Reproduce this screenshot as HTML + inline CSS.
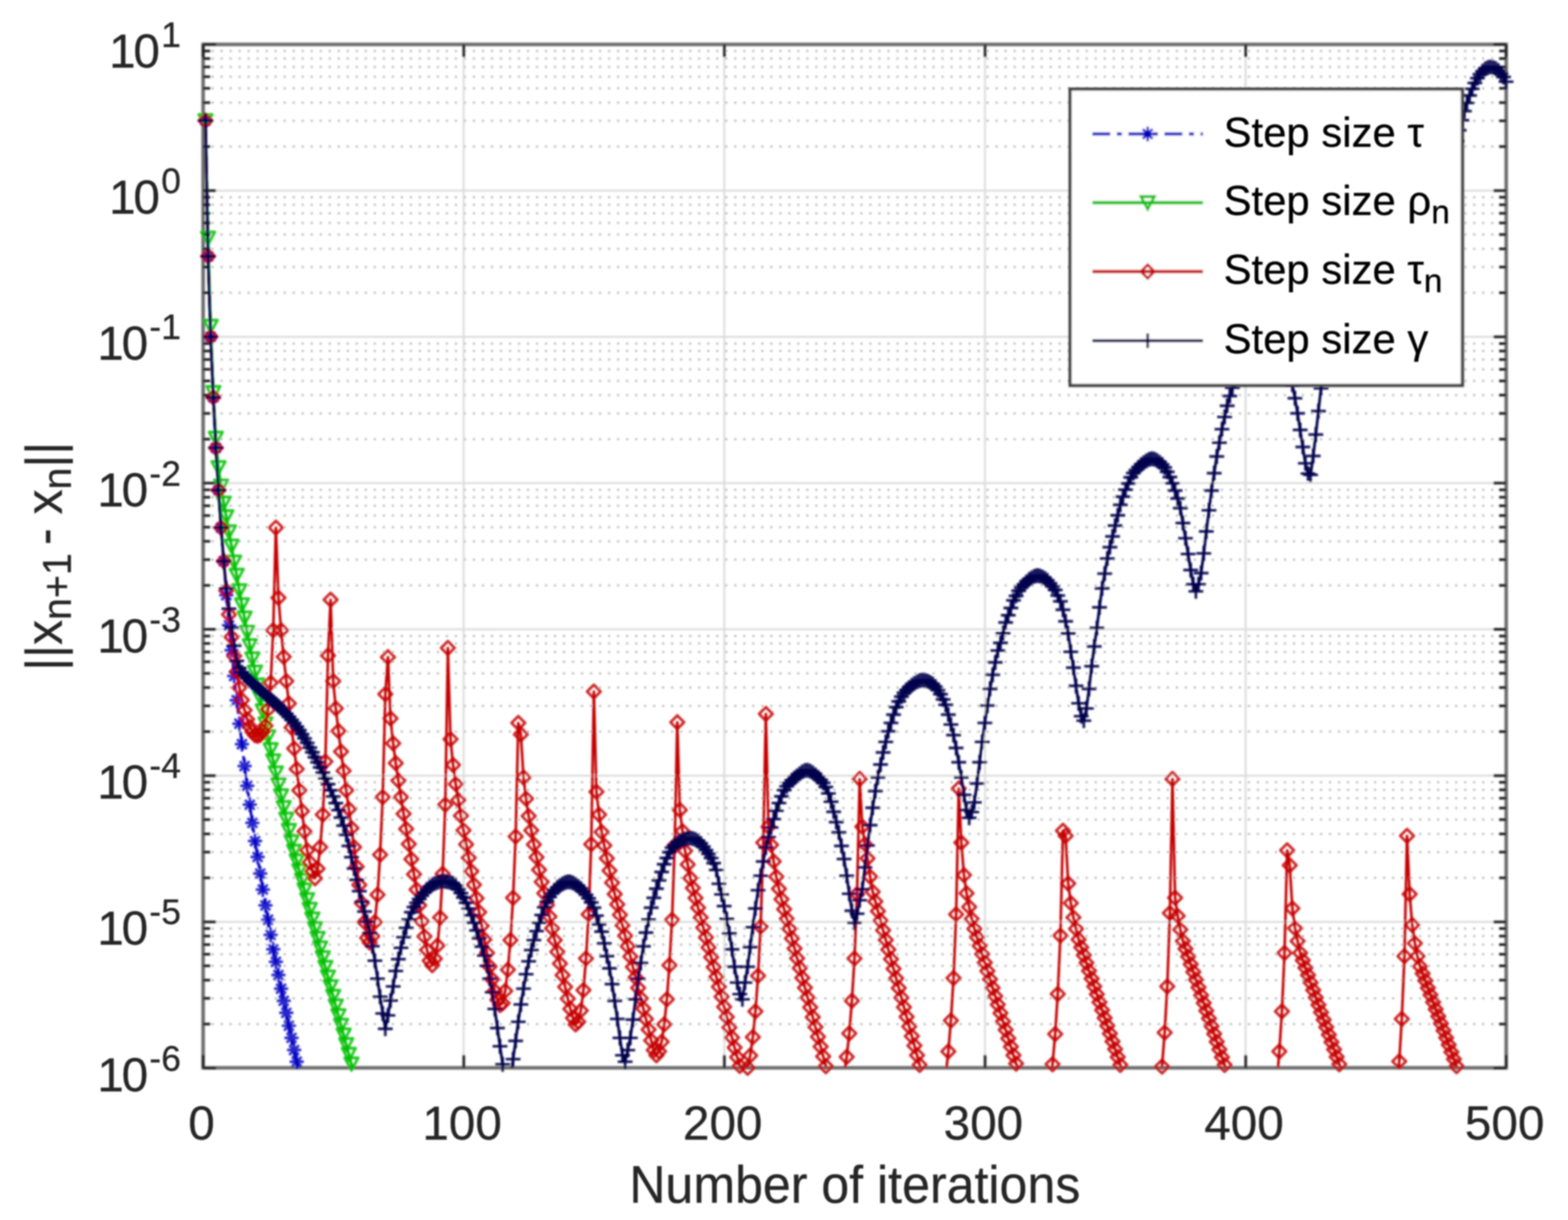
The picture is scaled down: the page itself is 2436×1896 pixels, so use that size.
<!DOCTYPE html>
<html lang="en"><head><meta charset="utf-8"><title>Convergence plot</title>
<style>html,body{margin:0;padding:0;background:#fff}body{width:2436px;height:1896px;overflow:hidden}svg{display:block}text{font-family:"Liberation Sans",sans-serif}</style>
</head><body>
<svg width="2436" height="1896" viewBox="0 0 2436 1896" role="img" aria-label="Convergence of step sizes">
<defs>
<filter id="bl" x="-2%" y="-2%" width="104%" height="104%"><feGaussianBlur stdDeviation="1.5"/></filter>
<filter id="bt" x="-5%" y="-5%" width="110%" height="110%"><feGaussianBlur stdDeviation="1.0"/></filter>
<clipPath id="cp"><rect x="315.6" y="69.0" width="2024.4" height="1590.5"/></clipPath>
<g id="mA"><path d="M-11 0H11M0 -11.5V11.5M-7.5 -7.5L7.5 7.5M-7.5 7.5L7.5 -7.5" fill="none"/></g>
<g id="mT"><path d="M-10.5 -9.5H10.5L0 10Z" fill="none"/></g>
<g id="mD"><path d="M0 -10.5L10.5 0L0 10.5L-10.5 0Z" fill="none"/></g>
<g id="mP"><path d="M-11.5 0H11.5M0 -11.5V11.5" fill="none"/></g>
</defs>
<rect width="2436" height="1896" fill="#fff"/>
<g filter="url(#bl)">
<g id="grid">
<path d="M328.8 1591.6H2328.0M328.8 1551.6H2328.0M328.8 1523.2H2328.0M328.8 1501.1H2328.0M328.8 1483.1H2328.0M328.8 1467.9H2328.0M328.8 1454.7H2328.0M328.8 1443.1H2328.0M328.8 1364.3H2328.0M328.8 1324.3H2328.0M328.8 1295.9H2328.0M328.8 1273.8H2328.0M328.8 1255.8H2328.0M328.8 1240.6H2328.0M328.8 1227.4H2328.0M328.8 1215.8H2328.0M328.8 1137.0H2328.0M328.8 1097.0H2328.0M328.8 1068.6H2328.0M328.8 1046.5H2328.0M328.8 1028.5H2328.0M328.8 1013.3H2328.0M328.8 1000.1H2328.0M328.8 988.5H2328.0M328.8 909.7H2328.0M328.8 869.7H2328.0M328.8 841.3H2328.0M328.8 819.2H2328.0M328.8 801.2H2328.0M328.8 786.0H2328.0M328.8 772.8H2328.0M328.8 761.2H2328.0M328.8 682.4H2328.0M328.8 642.4H2328.0M328.8 614.0H2328.0M328.8 591.9H2328.0M328.8 573.9H2328.0M328.8 558.7H2328.0M328.8 545.5H2328.0M328.8 533.9H2328.0M328.8 455.1H2328.0M328.8 415.1H2328.0M328.8 386.7H2328.0M328.8 364.6H2328.0M328.8 346.6H2328.0M328.8 331.4H2328.0M328.8 318.2H2328.0M328.8 306.6H2328.0M328.8 227.8H2328.0M328.8 187.8H2328.0M328.8 159.4H2328.0M328.8 137.3H2328.0M328.8 119.3H2328.0M328.8 104.1H2328.0M328.8 90.9H2328.0M328.8 79.3H2328.0" stroke="#acacac" stroke-width="3" stroke-dasharray="3 11" fill="none"/>
<path d="M315.6 1432.7H2340.0M315.6 1205.4H2340.0M315.6 978.1H2340.0M315.6 750.8H2340.0M315.6 523.5H2340.0M315.6 296.2H2340.0M720.3 69.0V1659.5M1125.2 69.0V1659.5M1530.2 69.0V1659.5M1935.1 69.0V1659.5" stroke="#dcdcdc" stroke-width="3" fill="none"/>
</g>
<g id="axes" fill="none" stroke-linecap="butt">
<rect x="315.6" y="69.0" width="2024.4" height="1590.5" stroke="#6c6c6c" stroke-width="5.5"/>
<path d="M315.6 1659.5v-20M315.6 69.0v20M720.5 1659.5v-20M720.5 69.0v20M1125.4 1659.5v-20M1125.4 69.0v20M1530.4 1659.5v-20M1530.4 69.0v20M1935.3 1659.5v-20M1935.3 69.0v20M2340.0 1659.5v-20M2340.0 69.0v20M315.6 1660.0h20M2340.0 1660.0h-20M315.6 1591.6h11M2340.0 1591.6h-11M315.6 1551.6h11M2340.0 1551.6h-11M315.6 1523.2h11M2340.0 1523.2h-11M315.6 1501.1h11M2340.0 1501.1h-11M315.6 1483.1h11M2340.0 1483.1h-11M315.6 1467.9h11M2340.0 1467.9h-11M315.6 1454.7h11M2340.0 1454.7h-11M315.6 1443.1h11M2340.0 1443.1h-11M315.6 1432.7h20M2340.0 1432.7h-20M315.6 1364.3h11M2340.0 1364.3h-11M315.6 1324.3h11M2340.0 1324.3h-11M315.6 1295.9h11M2340.0 1295.9h-11M315.6 1273.8h11M2340.0 1273.8h-11M315.6 1255.8h11M2340.0 1255.8h-11M315.6 1240.6h11M2340.0 1240.6h-11M315.6 1227.4h11M2340.0 1227.4h-11M315.6 1215.8h11M2340.0 1215.8h-11M315.6 1205.4h20M2340.0 1205.4h-20M315.6 1137.0h11M2340.0 1137.0h-11M315.6 1097.0h11M2340.0 1097.0h-11M315.6 1068.6h11M2340.0 1068.6h-11M315.6 1046.5h11M2340.0 1046.5h-11M315.6 1028.5h11M2340.0 1028.5h-11M315.6 1013.3h11M2340.0 1013.3h-11M315.6 1000.1h11M2340.0 1000.1h-11M315.6 988.5h11M2340.0 988.5h-11M315.6 978.1h20M2340.0 978.1h-20M315.6 909.7h11M2340.0 909.7h-11M315.6 869.7h11M2340.0 869.7h-11M315.6 841.3h11M2340.0 841.3h-11M315.6 819.2h11M2340.0 819.2h-11M315.6 801.2h11M2340.0 801.2h-11M315.6 786.0h11M2340.0 786.0h-11M315.6 772.8h11M2340.0 772.8h-11M315.6 761.2h11M2340.0 761.2h-11M315.6 750.8h20M2340.0 750.8h-20M315.6 682.4h11M2340.0 682.4h-11M315.6 642.4h11M2340.0 642.4h-11M315.6 614.0h11M2340.0 614.0h-11M315.6 591.9h11M2340.0 591.9h-11M315.6 573.9h11M2340.0 573.9h-11M315.6 558.7h11M2340.0 558.7h-11M315.6 545.5h11M2340.0 545.5h-11M315.6 533.9h11M2340.0 533.9h-11M315.6 523.5h20M2340.0 523.5h-20M315.6 455.1h11M2340.0 455.1h-11M315.6 415.1h11M2340.0 415.1h-11M315.6 386.7h11M2340.0 386.7h-11M315.6 364.6h11M2340.0 364.6h-11M315.6 346.6h11M2340.0 346.6h-11M315.6 331.4h11M2340.0 331.4h-11M315.6 318.2h11M2340.0 318.2h-11M315.6 306.6h11M2340.0 306.6h-11M315.6 296.2h20M2340.0 296.2h-20M315.6 227.8h11M2340.0 227.8h-11M315.6 187.8h11M2340.0 187.8h-11M315.6 159.4h11M2340.0 159.4h-11M315.6 137.3h11M2340.0 137.3h-11M315.6 119.3h11M2340.0 119.3h-11M315.6 104.1h11M2340.0 104.1h-11M315.6 90.9h11M2340.0 90.9h-11M315.6 79.3h11M2340.0 79.3h-11M315.6 68.9h20M2340.0 68.9h-20" stroke="#1c1c1c" stroke-width="4"/>
</g>
<g id="s-tau" stroke="#0000c4" fill="none" stroke-linejoin="round">
<polyline clip-path="url(#cp)" points="319.2 187.4 323.3 398.3 327.3 523.3 331.4 617.4 335.4 696.0 339.5 761.8 343.5 820.0 347.6 872.1 351.6 925.0 355.7 971.8 359.7 1010.6 363.8 1050.6 367.8 1088.2 371.9 1124.7 375.9 1156.5 380.0 1190.6 384.0 1221.2 388.1 1250.6 392.1 1278.8 396.2 1307.1 400.2 1331.8 404.3 1357.6 408.3 1382.4 412.4 1407.1 416.4 1429.4 420.5 1452.9 424.5 1475.3 428.6 1494.8 432.6 1515.3 436.7 1536.5 440.7 1555.3 444.8 1574.1 448.8 1594.1 452.9 1612.9 456.9 1631.8 461.0 1650.0 465.0 1668.0" stroke-width="4" stroke-dasharray="28 10 8 10"/>
<g stroke-width="4" stroke-linejoin="round" stroke-opacity="0.85">
<use href="#mA" x="319.2" y="187.4"/><use href="#mA" x="323.3" y="398.3"/><use href="#mA" x="327.3" y="523.3"/><use href="#mA" x="331.4" y="617.4"/><use href="#mA" x="335.4" y="696.0"/><use href="#mA" x="339.5" y="761.8"/><use href="#mA" x="343.5" y="820.0"/><use href="#mA" x="347.6" y="872.1"/><use href="#mA" x="351.6" y="925.0"/><use href="#mA" x="355.7" y="971.8"/><use href="#mA" x="359.7" y="1010.6"/><use href="#mA" x="363.8" y="1050.6"/><use href="#mA" x="367.8" y="1088.2"/><use href="#mA" x="371.9" y="1124.7"/><use href="#mA" x="375.9" y="1156.5"/><use href="#mA" x="380.0" y="1190.6"/><use href="#mA" x="384.0" y="1221.2"/><use href="#mA" x="388.1" y="1250.6"/><use href="#mA" x="392.1" y="1278.8"/><use href="#mA" x="396.2" y="1307.1"/><use href="#mA" x="400.2" y="1331.8"/><use href="#mA" x="404.3" y="1357.6"/><use href="#mA" x="408.3" y="1382.4"/><use href="#mA" x="412.4" y="1407.1"/><use href="#mA" x="416.4" y="1429.4"/><use href="#mA" x="420.5" y="1452.9"/><use href="#mA" x="424.5" y="1475.3"/><use href="#mA" x="428.6" y="1494.8"/><use href="#mA" x="432.6" y="1515.3"/><use href="#mA" x="436.7" y="1536.5"/><use href="#mA" x="440.7" y="1555.3"/><use href="#mA" x="444.8" y="1574.1"/><use href="#mA" x="448.8" y="1594.1"/><use href="#mA" x="452.9" y="1612.9"/><use href="#mA" x="456.9" y="1631.8"/><use href="#mA" x="461.0" y="1650.0"/>
</g></g>
<g id="s-rho" stroke="#00c000" fill="none" stroke-linejoin="round">
<polyline clip-path="url(#cp)" points="319.2 187.4 323.3 370.0 327.3 507.0 331.4 610.0 335.4 681.0 339.5 726.7 343.5 755.5 347.6 781.8 351.6 803.0 355.7 826.5 359.7 848.7 363.8 873.4 367.8 894.0 371.9 918.0 375.9 939.8 380.0 960.4 384.0 982.7 388.1 1003.3 392.1 1023.9 396.2 1044.4 400.2 1064.5 404.3 1084.6 408.3 1104.7 412.4 1124.8 416.4 1144.9 420.5 1165.0 424.5 1182.3 428.6 1201.2 432.6 1219.4 436.7 1236.7 440.7 1254.8 444.8 1273.0 448.8 1290.5 452.9 1308.0 456.9 1323.0 461.0 1338.0 465.0 1353.1 469.1 1368.1 473.1 1383.1 477.2 1398.1 481.2 1413.2 485.3 1428.2 489.3 1443.2 493.4 1458.2 497.4 1473.2 501.5 1488.3 505.5 1503.3 509.6 1518.3 513.6 1533.3 517.7 1548.3 521.7 1563.4 525.8 1578.4 529.8 1593.4 533.9 1608.4 537.9 1623.5 542.0 1638.5 546.0 1653.5 550.1 1669.0" stroke-width="4"/>
<g stroke-width="4.3" stroke-linejoin="round" stroke-opacity="0.85">
<use href="#mT" x="319.2" y="187.4"/><use href="#mT" x="323.3" y="370.0"/><use href="#mT" x="327.3" y="507.0"/><use href="#mT" x="331.4" y="610.0"/><use href="#mT" x="335.4" y="681.0"/><use href="#mT" x="339.5" y="726.7"/><use href="#mT" x="343.5" y="755.5"/><use href="#mT" x="347.6" y="781.8"/><use href="#mT" x="351.6" y="803.0"/><use href="#mT" x="355.7" y="826.5"/><use href="#mT" x="359.7" y="848.7"/><use href="#mT" x="363.8" y="873.4"/><use href="#mT" x="367.8" y="894.0"/><use href="#mT" x="371.9" y="918.0"/><use href="#mT" x="375.9" y="939.8"/><use href="#mT" x="380.0" y="960.4"/><use href="#mT" x="384.0" y="982.7"/><use href="#mT" x="388.1" y="1003.3"/><use href="#mT" x="392.1" y="1023.9"/><use href="#mT" x="396.2" y="1044.4"/><use href="#mT" x="400.2" y="1064.5"/><use href="#mT" x="404.3" y="1084.6"/><use href="#mT" x="408.3" y="1104.7"/><use href="#mT" x="412.4" y="1124.8"/><use href="#mT" x="416.4" y="1144.9"/><use href="#mT" x="420.5" y="1165.0"/><use href="#mT" x="424.5" y="1182.3"/><use href="#mT" x="428.6" y="1201.2"/><use href="#mT" x="432.6" y="1219.4"/><use href="#mT" x="436.7" y="1236.7"/><use href="#mT" x="440.7" y="1254.8"/><use href="#mT" x="444.8" y="1273.0"/><use href="#mT" x="448.8" y="1290.5"/><use href="#mT" x="452.9" y="1308.0"/><use href="#mT" x="456.9" y="1323.0"/><use href="#mT" x="461.0" y="1338.0"/><use href="#mT" x="465.0" y="1353.1"/><use href="#mT" x="469.1" y="1368.1"/><use href="#mT" x="473.1" y="1383.1"/><use href="#mT" x="477.2" y="1398.1"/><use href="#mT" x="481.2" y="1413.2"/><use href="#mT" x="485.3" y="1428.2"/><use href="#mT" x="489.3" y="1443.2"/><use href="#mT" x="493.4" y="1458.2"/><use href="#mT" x="497.4" y="1473.2"/><use href="#mT" x="501.5" y="1488.3"/><use href="#mT" x="505.5" y="1503.3"/><use href="#mT" x="509.6" y="1518.3"/><use href="#mT" x="513.6" y="1533.3"/><use href="#mT" x="517.7" y="1548.3"/><use href="#mT" x="521.7" y="1563.4"/><use href="#mT" x="525.8" y="1578.4"/><use href="#mT" x="529.8" y="1593.4"/><use href="#mT" x="533.9" y="1608.4"/><use href="#mT" x="537.9" y="1623.5"/><use href="#mT" x="542.0" y="1638.5"/><use href="#mT" x="546.0" y="1653.5"/>
</g></g>
<g id="s-taun" stroke="#c60000" fill="none" stroke-linejoin="round">
<polyline clip-path="url(#cp)" points="319.2 187.4 323.3 398.3 327.3 523.3 331.4 617.4 335.4 696.0 339.5 761.8 343.5 820.0 347.6 872.1 351.6 918.0 355.7 955.0 359.7 990.0 363.8 1019.5 367.8 1044.0 371.9 1068.7 375.9 1088.0 380.0 1103.7 384.0 1118.0 388.1 1129.5 392.1 1137.3 396.2 1142.5 400.2 1143.8 404.3 1142.0 408.3 1137.0 412.4 1128.0 416.4 1102.4 420.5 1061.0 424.5 979.4 428.6 820.0 432.6 929.0 436.7 979.4 440.7 1020.8 444.8 1058.4 448.8 1093.3 452.9 1130.8 456.9 1163.2 461.0 1195.3 465.0 1228.2 469.1 1260.5 473.1 1292.2 477.2 1321.5 481.2 1340.0 485.3 1354.0 489.3 1365.0 493.4 1350.0 497.4 1316.5 501.5 1266.0 505.5 1183.5 509.6 1018.8 513.6 932.0 517.7 1058.6 521.7 1101.1 525.8 1136.0 529.8 1168.0 533.9 1198.1 537.9 1228.2 542.0 1257.6 546.0 1287.0 550.1 1316.5 554.1 1347.0 558.2 1375.3 562.2 1403.5 566.3 1433.0 570.3 1457.6 574.3 1464.7 578.4 1455.0 582.4 1433.0 586.5 1390.6 590.5 1328.2 594.6 1238.8 598.6 1078.8 602.7 1021.2 606.7 1116.5 610.8 1155.3 614.8 1185.9 618.9 1213.0 622.9 1238.8 627.0 1264.7 631.0 1288.2 635.1 1311.8 639.1 1335.3 643.2 1358.8 647.2 1382.4 651.3 1407.0 655.3 1431.8 659.4 1455.3 663.4 1476.5 667.5 1493.0 671.5 1500.0 675.6 1490.0 679.6 1469.4 683.7 1425.9 687.7 1358.0 691.8 1250.6 695.8 1007.0 699.9 1148.7 703.9 1188.7 708.0 1218.4 712.0 1243.5 716.1 1267.8 720.1 1290.6 724.2 1312.2 728.2 1333.0 732.3 1354.0 736.3 1375.0 740.4 1396.0 744.4 1417.6 748.5 1438.8 752.5 1460.0 756.6 1481.0 760.6 1502.0 764.7 1522.0 768.7 1540.0 772.8 1554.0 776.8 1562.0 780.9 1559.0 784.9 1540.0 789.0 1507.0 793.0 1461.0 797.1 1395.3 801.1 1300.0 805.2 1123.5 809.2 1141.2 813.3 1208.2 817.3 1241.2 821.3 1268.2 825.4 1290.6 829.4 1312.5 833.5 1332.2 837.5 1351.8 841.6 1370.6 845.6 1388.2 849.7 1406.4 853.7 1424.6 857.8 1442.8 861.8 1461.0 865.9 1479.2 869.9 1497.4 874.0 1515.6 878.0 1533.8 882.1 1552.0 886.1 1568.0 890.2 1582.0 894.2 1592.0 898.3 1588.0 902.3 1570.6 906.4 1538.8 910.4 1489.4 914.5 1421.0 918.5 1312.0 922.6 1074.8 926.6 1230.6 930.7 1265.9 934.7 1292.9 938.8 1314.1 942.8 1334.1 946.9 1352.9 950.9 1371.8 955.0 1389.4 959.0 1405.6 963.1 1421.8 967.1 1438.0 971.2 1454.2 975.2 1470.4 979.3 1486.6 983.3 1502.8 987.4 1519.0 991.4 1535.2 995.5 1551.4 999.5 1567.6 1003.6 1583.8 1007.6 1600.0 1011.7 1617.0 1015.7 1632.0 1019.8 1640.0 1023.8 1634.0 1027.9 1619.0 1031.9 1592.0 1036.0 1553.0 1040.0 1500.0 1044.1 1429.4 1048.1 1314.0 1052.2 1122.4 1056.2 1258.8 1060.3 1291.8 1064.3 1322.4 1068.4 1343.5 1072.4 1364.7 1076.4 1380.1 1080.5 1395.4 1084.5 1410.8 1088.6 1426.1 1092.6 1441.5 1096.7 1456.8 1100.7 1472.2 1104.8 1487.6 1108.8 1502.9 1112.9 1518.3 1116.9 1533.6 1121.0 1549.0 1125.0 1564.7 1129.1 1580.4 1133.1 1596.8 1137.2 1612.5 1141.2 1628.0 1145.3 1643.0 1149.3 1656.5 1153.4 1668.0 1157.4 1671.0 1161.5 1659.4 1165.5 1640.5 1169.6 1611.8 1173.6 1571.8 1177.7 1516.5 1181.7 1440.0 1185.8 1309.4 1189.8 1109.4 1193.9 1285.0 1197.9 1313.0 1202.0 1338.8 1206.0 1362.4 1210.1 1381.2 1214.1 1397.6 1218.2 1412.9 1222.2 1428.1 1226.3 1443.4 1230.3 1458.6 1234.4 1473.9 1238.4 1489.2 1242.5 1504.4 1246.5 1519.7 1250.6 1534.9 1254.6 1550.2 1258.7 1565.4 1262.7 1580.7 1266.8 1596.0 1270.8 1611.2 1274.9 1626.5 1278.9 1641.7 1283.0 1657.0 1287.0 1672.0 1291.1 1685.0 1295.1 1696.0 1299.2 1703.0 1303.2 1700.0 1307.3 1690.0 1311.3 1670.0 1315.4 1642.4 1319.4 1605.9 1323.5 1555.3 1327.5 1489.4 1331.5 1389.4 1335.6 1210.6 1339.6 1284.7 1343.7 1312.0 1347.7 1334.0 1351.8 1362.4 1355.8 1386.0 1359.9 1400.9 1363.9 1415.9 1368.0 1430.8 1372.0 1445.8 1376.1 1460.7 1380.1 1475.7 1384.2 1490.6 1388.2 1505.6 1392.3 1520.5 1396.3 1535.4 1400.4 1550.4 1404.4 1565.3 1408.5 1580.3 1412.5 1595.2 1416.6 1610.2 1420.6 1625.1 1424.7 1640.1 1428.7 1655.0 1432.8 1668.0 1436.8 1680.0 1440.9 1691.0 1444.9 1700.0 1449.0 1707.0 1453.0 1712.0 1457.1 1714.0 1461.1 1710.0 1465.2 1698.0 1469.2 1672.0 1473.3 1634.0 1477.3 1586.0 1481.4 1520.0 1485.4 1421.0 1489.5 1225.4 1493.5 1309.4 1497.6 1360.0 1501.6 1388.2 1505.7 1409.4 1509.7 1428.2 1513.8 1443.5 1517.8 1456.6 1521.9 1469.7 1525.9 1482.8 1530.0 1495.9 1534.0 1509.0 1538.1 1522.1 1542.1 1535.2 1546.2 1548.2 1550.2 1561.3 1554.3 1574.4 1558.3 1587.5 1562.4 1600.6 1566.4 1613.7 1570.5 1626.8 1574.5 1639.9 1578.6 1653.0 1582.6 1664.5 1586.6 1676.0 1590.7 1687.5 1594.7 1699.0 1598.8 1710.5 1602.8 1722.0 1606.9 1733.5 1610.9 1745.0 1615.0 1750.0 1619.0 1748.0 1623.1 1740.0 1627.1 1725.0 1631.2 1698.0 1635.2 1654.0 1639.3 1607.0 1643.3 1544.7 1647.4 1454.0 1651.4 1291.0 1655.5 1299.0 1659.5 1373.0 1663.6 1403.5 1667.6 1426.0 1671.7 1443.5 1675.7 1460.0 1679.8 1472.2 1683.8 1484.4 1687.9 1496.6 1691.9 1508.8 1696.0 1520.9 1700.0 1533.1 1704.1 1545.3 1708.1 1557.5 1712.2 1569.7 1716.2 1581.9 1720.3 1594.1 1724.3 1606.2 1728.4 1618.4 1732.4 1630.6 1736.5 1642.8 1740.5 1655.0 1744.6 1666.1 1748.6 1677.2 1752.7 1688.3 1756.7 1699.4 1760.8 1710.6 1764.8 1721.7 1768.9 1732.8 1772.9 1743.9 1777.0 1755.0 1781.0 1760.0 1785.1 1758.0 1789.1 1750.0 1793.2 1738.0 1797.2 1720.0 1801.3 1692.0 1805.3 1657.6 1809.4 1604.7 1813.4 1533.0 1817.5 1419.0 1821.5 1210.6 1825.6 1395.3 1829.6 1423.5 1833.7 1444.7 1837.7 1462.4 1841.7 1474.4 1845.8 1486.5 1849.8 1498.5 1853.9 1510.6 1857.9 1522.6 1862.0 1534.6 1866.0 1546.7 1870.1 1558.7 1874.1 1570.7 1878.2 1582.8 1882.2 1594.8 1886.3 1606.8 1890.3 1618.9 1894.4 1630.9 1898.4 1643.0 1902.5 1655.0 1906.5 1666.2 1910.6 1677.3 1914.6 1688.5 1918.7 1699.6 1922.7 1710.8 1926.8 1721.9 1930.8 1733.1 1934.9 1744.2 1938.9 1755.4 1943.0 1766.5 1947.0 1777.7 1951.1 1788.8 1955.1 1800.0 1959.2 1805.0 1963.2 1803.0 1967.3 1795.0 1971.3 1780.0 1975.4 1757.0 1979.4 1725.0 1983.5 1685.0 1987.5 1634.0 1991.6 1571.8 1995.6 1481.0 1999.7 1321.6 2003.7 1344.7 2007.8 1411.8 2011.8 1442.4 2015.9 1462.4 2019.9 1481.0 2024.0 1492.5 2028.0 1504.1 2032.1 1515.6 2036.1 1527.1 2040.2 1538.7 2044.2 1550.2 2048.3 1561.7 2052.3 1573.3 2056.4 1584.8 2060.4 1596.3 2064.5 1607.9 2068.5 1619.4 2072.6 1630.9 2076.6 1642.5 2080.7 1654.0 2084.7 1665.1 2088.7 1676.1 2092.8 1687.2 2096.8 1698.3 2100.9 1709.3 2104.9 1720.4 2109.0 1731.5 2113.0 1742.5 2117.1 1753.6 2121.1 1764.7 2125.2 1775.7 2129.2 1786.8 2133.3 1797.9 2137.3 1808.9 2141.4 1820.0 2145.4 1825.0 2149.5 1822.0 2153.5 1812.0 2157.6 1796.0 2161.6 1773.0 2165.7 1742.0 2169.7 1700.0 2173.8 1649.4 2177.8 1583.5 2181.9 1486.0 2185.9 1299.0 2190.0 1389.4 2194.0 1437.6 2198.1 1466.0 2202.1 1486.0 2206.2 1502.0 2210.2 1513.1 2214.3 1524.1 2218.3 1535.2 2222.4 1546.3 2226.4 1557.4 2230.5 1568.4 2234.5 1579.5 2238.6 1590.6 2242.6 1601.6 2246.7 1612.7 2250.7 1623.8 2254.8 1634.9 2258.8 1645.9 2262.9 1657.0 2266.9 1668.0 2271.0 1679.0 2275.0 1690.0 2279.1 1701.0 2283.1 1712.0 2287.2 1723.0 2291.2 1734.0 2295.3 1745.0 2299.3 1756.0 2303.4 1767.0 2307.4 1778.0 2311.5 1789.0 2315.5 1800.0 2319.6 1811.0 2323.6 1822.0 2327.7 1833.0 2331.7 1844.0 2335.8 1855.0 2339.8 1866.0" stroke-width="4"/>
<g stroke-width="4.3" stroke-linejoin="round" stroke-opacity="0.85">
<use href="#mD" x="319.2" y="187.4"/><use href="#mD" x="323.3" y="398.3"/><use href="#mD" x="327.3" y="523.3"/><use href="#mD" x="331.4" y="617.4"/><use href="#mD" x="335.4" y="696.0"/><use href="#mD" x="339.5" y="761.8"/><use href="#mD" x="343.5" y="820.0"/><use href="#mD" x="347.6" y="872.1"/><use href="#mD" x="351.6" y="918.0"/><use href="#mD" x="355.7" y="955.0"/><use href="#mD" x="359.7" y="990.0"/><use href="#mD" x="363.8" y="1019.5"/><use href="#mD" x="367.8" y="1044.0"/><use href="#mD" x="371.9" y="1068.7"/><use href="#mD" x="375.9" y="1088.0"/><use href="#mD" x="380.0" y="1103.7"/><use href="#mD" x="384.0" y="1118.0"/><use href="#mD" x="388.1" y="1129.5"/><use href="#mD" x="392.1" y="1137.3"/><use href="#mD" x="396.2" y="1142.5"/><use href="#mD" x="400.2" y="1143.8"/><use href="#mD" x="404.3" y="1142.0"/><use href="#mD" x="408.3" y="1137.0"/><use href="#mD" x="412.4" y="1128.0"/><use href="#mD" x="416.4" y="1102.4"/><use href="#mD" x="420.5" y="1061.0"/><use href="#mD" x="424.5" y="979.4"/><use href="#mD" x="428.6" y="820.0"/><use href="#mD" x="432.6" y="929.0"/><use href="#mD" x="436.7" y="979.4"/><use href="#mD" x="440.7" y="1020.8"/><use href="#mD" x="444.8" y="1058.4"/><use href="#mD" x="448.8" y="1093.3"/><use href="#mD" x="452.9" y="1130.8"/><use href="#mD" x="456.9" y="1163.2"/><use href="#mD" x="461.0" y="1195.3"/><use href="#mD" x="465.0" y="1228.2"/><use href="#mD" x="469.1" y="1260.5"/><use href="#mD" x="473.1" y="1292.2"/><use href="#mD" x="477.2" y="1321.5"/><use href="#mD" x="481.2" y="1340.0"/><use href="#mD" x="485.3" y="1354.0"/><use href="#mD" x="489.3" y="1365.0"/><use href="#mD" x="493.4" y="1350.0"/><use href="#mD" x="497.4" y="1316.5"/><use href="#mD" x="501.5" y="1266.0"/><use href="#mD" x="505.5" y="1183.5"/><use href="#mD" x="509.6" y="1018.8"/><use href="#mD" x="513.6" y="932.0"/><use href="#mD" x="517.7" y="1058.6"/><use href="#mD" x="521.7" y="1101.1"/><use href="#mD" x="525.8" y="1136.0"/><use href="#mD" x="529.8" y="1168.0"/><use href="#mD" x="533.9" y="1198.1"/><use href="#mD" x="537.9" y="1228.2"/><use href="#mD" x="542.0" y="1257.6"/><use href="#mD" x="546.0" y="1287.0"/><use href="#mD" x="550.1" y="1316.5"/><use href="#mD" x="554.1" y="1347.0"/><use href="#mD" x="558.2" y="1375.3"/><use href="#mD" x="562.2" y="1403.5"/><use href="#mD" x="566.3" y="1433.0"/><use href="#mD" x="570.3" y="1457.6"/><use href="#mD" x="574.3" y="1464.7"/><use href="#mD" x="578.4" y="1455.0"/><use href="#mD" x="582.4" y="1433.0"/><use href="#mD" x="586.5" y="1390.6"/><use href="#mD" x="590.5" y="1328.2"/><use href="#mD" x="594.6" y="1238.8"/><use href="#mD" x="598.6" y="1078.8"/><use href="#mD" x="602.7" y="1021.2"/><use href="#mD" x="606.7" y="1116.5"/><use href="#mD" x="610.8" y="1155.3"/><use href="#mD" x="614.8" y="1185.9"/><use href="#mD" x="618.9" y="1213.0"/><use href="#mD" x="622.9" y="1238.8"/><use href="#mD" x="627.0" y="1264.7"/><use href="#mD" x="631.0" y="1288.2"/><use href="#mD" x="635.1" y="1311.8"/><use href="#mD" x="639.1" y="1335.3"/><use href="#mD" x="643.2" y="1358.8"/><use href="#mD" x="647.2" y="1382.4"/><use href="#mD" x="651.3" y="1407.0"/><use href="#mD" x="655.3" y="1431.8"/><use href="#mD" x="659.4" y="1455.3"/><use href="#mD" x="663.4" y="1476.5"/><use href="#mD" x="667.5" y="1493.0"/><use href="#mD" x="671.5" y="1500.0"/><use href="#mD" x="675.6" y="1490.0"/><use href="#mD" x="679.6" y="1469.4"/><use href="#mD" x="683.7" y="1425.9"/><use href="#mD" x="687.7" y="1358.0"/><use href="#mD" x="691.8" y="1250.6"/><use href="#mD" x="695.8" y="1007.0"/><use href="#mD" x="699.9" y="1148.7"/><use href="#mD" x="703.9" y="1188.7"/><use href="#mD" x="708.0" y="1218.4"/><use href="#mD" x="712.0" y="1243.5"/><use href="#mD" x="716.1" y="1267.8"/><use href="#mD" x="720.1" y="1290.6"/><use href="#mD" x="724.2" y="1312.2"/><use href="#mD" x="728.2" y="1333.0"/><use href="#mD" x="732.3" y="1354.0"/><use href="#mD" x="736.3" y="1375.0"/><use href="#mD" x="740.4" y="1396.0"/><use href="#mD" x="744.4" y="1417.6"/><use href="#mD" x="748.5" y="1438.8"/><use href="#mD" x="752.5" y="1460.0"/><use href="#mD" x="756.6" y="1481.0"/><use href="#mD" x="760.6" y="1502.0"/><use href="#mD" x="764.7" y="1522.0"/><use href="#mD" x="768.7" y="1540.0"/><use href="#mD" x="772.8" y="1554.0"/><use href="#mD" x="776.8" y="1562.0"/><use href="#mD" x="780.9" y="1559.0"/><use href="#mD" x="784.9" y="1540.0"/><use href="#mD" x="789.0" y="1507.0"/><use href="#mD" x="793.0" y="1461.0"/><use href="#mD" x="797.1" y="1395.3"/><use href="#mD" x="801.1" y="1300.0"/><use href="#mD" x="805.2" y="1123.5"/><use href="#mD" x="809.2" y="1141.2"/><use href="#mD" x="813.3" y="1208.2"/><use href="#mD" x="817.3" y="1241.2"/><use href="#mD" x="821.3" y="1268.2"/><use href="#mD" x="825.4" y="1290.6"/><use href="#mD" x="829.4" y="1312.5"/><use href="#mD" x="833.5" y="1332.2"/><use href="#mD" x="837.5" y="1351.8"/><use href="#mD" x="841.6" y="1370.6"/><use href="#mD" x="845.6" y="1388.2"/><use href="#mD" x="849.7" y="1406.4"/><use href="#mD" x="853.7" y="1424.6"/><use href="#mD" x="857.8" y="1442.8"/><use href="#mD" x="861.8" y="1461.0"/><use href="#mD" x="865.9" y="1479.2"/><use href="#mD" x="869.9" y="1497.4"/><use href="#mD" x="874.0" y="1515.6"/><use href="#mD" x="878.0" y="1533.8"/><use href="#mD" x="882.1" y="1552.0"/><use href="#mD" x="886.1" y="1568.0"/><use href="#mD" x="890.2" y="1582.0"/><use href="#mD" x="894.2" y="1592.0"/><use href="#mD" x="898.3" y="1588.0"/><use href="#mD" x="902.3" y="1570.6"/><use href="#mD" x="906.4" y="1538.8"/><use href="#mD" x="910.4" y="1489.4"/><use href="#mD" x="914.5" y="1421.0"/><use href="#mD" x="918.5" y="1312.0"/><use href="#mD" x="922.6" y="1074.8"/><use href="#mD" x="926.6" y="1230.6"/><use href="#mD" x="930.7" y="1265.9"/><use href="#mD" x="934.7" y="1292.9"/><use href="#mD" x="938.8" y="1314.1"/><use href="#mD" x="942.8" y="1334.1"/><use href="#mD" x="946.9" y="1352.9"/><use href="#mD" x="950.9" y="1371.8"/><use href="#mD" x="955.0" y="1389.4"/><use href="#mD" x="959.0" y="1405.6"/><use href="#mD" x="963.1" y="1421.8"/><use href="#mD" x="967.1" y="1438.0"/><use href="#mD" x="971.2" y="1454.2"/><use href="#mD" x="975.2" y="1470.4"/><use href="#mD" x="979.3" y="1486.6"/><use href="#mD" x="983.3" y="1502.8"/><use href="#mD" x="987.4" y="1519.0"/><use href="#mD" x="991.4" y="1535.2"/><use href="#mD" x="995.5" y="1551.4"/><use href="#mD" x="999.5" y="1567.6"/><use href="#mD" x="1003.6" y="1583.8"/><use href="#mD" x="1007.6" y="1600.0"/><use href="#mD" x="1011.7" y="1617.0"/><use href="#mD" x="1015.7" y="1632.0"/><use href="#mD" x="1019.8" y="1640.0"/><use href="#mD" x="1023.8" y="1634.0"/><use href="#mD" x="1027.9" y="1619.0"/><use href="#mD" x="1031.9" y="1592.0"/><use href="#mD" x="1036.0" y="1553.0"/><use href="#mD" x="1040.0" y="1500.0"/><use href="#mD" x="1044.1" y="1429.4"/><use href="#mD" x="1048.1" y="1314.0"/><use href="#mD" x="1052.2" y="1122.4"/><use href="#mD" x="1056.2" y="1258.8"/><use href="#mD" x="1060.3" y="1291.8"/><use href="#mD" x="1064.3" y="1322.4"/><use href="#mD" x="1068.4" y="1343.5"/><use href="#mD" x="1072.4" y="1364.7"/><use href="#mD" x="1076.4" y="1380.1"/><use href="#mD" x="1080.5" y="1395.4"/><use href="#mD" x="1084.5" y="1410.8"/><use href="#mD" x="1088.6" y="1426.1"/><use href="#mD" x="1092.6" y="1441.5"/><use href="#mD" x="1096.7" y="1456.8"/><use href="#mD" x="1100.7" y="1472.2"/><use href="#mD" x="1104.8" y="1487.6"/><use href="#mD" x="1108.8" y="1502.9"/><use href="#mD" x="1112.9" y="1518.3"/><use href="#mD" x="1116.9" y="1533.6"/><use href="#mD" x="1121.0" y="1549.0"/><use href="#mD" x="1125.0" y="1564.7"/><use href="#mD" x="1129.1" y="1580.4"/><use href="#mD" x="1133.1" y="1596.8"/><use href="#mD" x="1137.2" y="1612.5"/><use href="#mD" x="1141.2" y="1628.0"/><use href="#mD" x="1145.3" y="1643.0"/><use href="#mD" x="1149.3" y="1656.5"/><use href="#mD" x="1161.5" y="1659.4"/><use href="#mD" x="1165.5" y="1640.5"/><use href="#mD" x="1169.6" y="1611.8"/><use href="#mD" x="1173.6" y="1571.8"/><use href="#mD" x="1177.7" y="1516.5"/><use href="#mD" x="1181.7" y="1440.0"/><use href="#mD" x="1185.8" y="1309.4"/><use href="#mD" x="1189.8" y="1109.4"/><use href="#mD" x="1193.9" y="1285.0"/><use href="#mD" x="1197.9" y="1313.0"/><use href="#mD" x="1202.0" y="1338.8"/><use href="#mD" x="1206.0" y="1362.4"/><use href="#mD" x="1210.1" y="1381.2"/><use href="#mD" x="1214.1" y="1397.6"/><use href="#mD" x="1218.2" y="1412.9"/><use href="#mD" x="1222.2" y="1428.1"/><use href="#mD" x="1226.3" y="1443.4"/><use href="#mD" x="1230.3" y="1458.6"/><use href="#mD" x="1234.4" y="1473.9"/><use href="#mD" x="1238.4" y="1489.2"/><use href="#mD" x="1242.5" y="1504.4"/><use href="#mD" x="1246.5" y="1519.7"/><use href="#mD" x="1250.6" y="1534.9"/><use href="#mD" x="1254.6" y="1550.2"/><use href="#mD" x="1258.7" y="1565.4"/><use href="#mD" x="1262.7" y="1580.7"/><use href="#mD" x="1266.8" y="1596.0"/><use href="#mD" x="1270.8" y="1611.2"/><use href="#mD" x="1274.9" y="1626.5"/><use href="#mD" x="1278.9" y="1641.7"/><use href="#mD" x="1283.0" y="1657.0"/><use href="#mD" x="1315.4" y="1642.4"/><use href="#mD" x="1319.4" y="1605.9"/><use href="#mD" x="1323.5" y="1555.3"/><use href="#mD" x="1327.5" y="1489.4"/><use href="#mD" x="1331.5" y="1389.4"/><use href="#mD" x="1335.6" y="1210.6"/><use href="#mD" x="1339.6" y="1284.7"/><use href="#mD" x="1343.7" y="1312.0"/><use href="#mD" x="1347.7" y="1334.0"/><use href="#mD" x="1351.8" y="1362.4"/><use href="#mD" x="1355.8" y="1386.0"/><use href="#mD" x="1359.9" y="1400.9"/><use href="#mD" x="1363.9" y="1415.9"/><use href="#mD" x="1368.0" y="1430.8"/><use href="#mD" x="1372.0" y="1445.8"/><use href="#mD" x="1376.1" y="1460.7"/><use href="#mD" x="1380.1" y="1475.7"/><use href="#mD" x="1384.2" y="1490.6"/><use href="#mD" x="1388.2" y="1505.6"/><use href="#mD" x="1392.3" y="1520.5"/><use href="#mD" x="1396.3" y="1535.4"/><use href="#mD" x="1400.4" y="1550.4"/><use href="#mD" x="1404.4" y="1565.3"/><use href="#mD" x="1408.5" y="1580.3"/><use href="#mD" x="1412.5" y="1595.2"/><use href="#mD" x="1416.6" y="1610.2"/><use href="#mD" x="1420.6" y="1625.1"/><use href="#mD" x="1424.7" y="1640.1"/><use href="#mD" x="1428.7" y="1655.0"/><use href="#mD" x="1473.3" y="1634.0"/><use href="#mD" x="1477.3" y="1586.0"/><use href="#mD" x="1481.4" y="1520.0"/><use href="#mD" x="1485.4" y="1421.0"/><use href="#mD" x="1489.5" y="1225.4"/><use href="#mD" x="1493.5" y="1309.4"/><use href="#mD" x="1497.6" y="1360.0"/><use href="#mD" x="1501.6" y="1388.2"/><use href="#mD" x="1505.7" y="1409.4"/><use href="#mD" x="1509.7" y="1428.2"/><use href="#mD" x="1513.8" y="1443.5"/><use href="#mD" x="1517.8" y="1456.6"/><use href="#mD" x="1521.9" y="1469.7"/><use href="#mD" x="1525.9" y="1482.8"/><use href="#mD" x="1530.0" y="1495.9"/><use href="#mD" x="1534.0" y="1509.0"/><use href="#mD" x="1538.1" y="1522.1"/><use href="#mD" x="1542.1" y="1535.2"/><use href="#mD" x="1546.2" y="1548.2"/><use href="#mD" x="1550.2" y="1561.3"/><use href="#mD" x="1554.3" y="1574.4"/><use href="#mD" x="1558.3" y="1587.5"/><use href="#mD" x="1562.4" y="1600.6"/><use href="#mD" x="1566.4" y="1613.7"/><use href="#mD" x="1570.5" y="1626.8"/><use href="#mD" x="1574.5" y="1639.9"/><use href="#mD" x="1578.6" y="1653.0"/><use href="#mD" x="1635.2" y="1654.0"/><use href="#mD" x="1639.3" y="1607.0"/><use href="#mD" x="1643.3" y="1544.7"/><use href="#mD" x="1647.4" y="1454.0"/><use href="#mD" x="1651.4" y="1291.0"/><use href="#mD" x="1655.5" y="1299.0"/><use href="#mD" x="1659.5" y="1373.0"/><use href="#mD" x="1663.6" y="1403.5"/><use href="#mD" x="1667.6" y="1426.0"/><use href="#mD" x="1671.7" y="1443.5"/><use href="#mD" x="1675.7" y="1460.0"/><use href="#mD" x="1679.8" y="1472.2"/><use href="#mD" x="1683.8" y="1484.4"/><use href="#mD" x="1687.9" y="1496.6"/><use href="#mD" x="1691.9" y="1508.8"/><use href="#mD" x="1696.0" y="1520.9"/><use href="#mD" x="1700.0" y="1533.1"/><use href="#mD" x="1704.1" y="1545.3"/><use href="#mD" x="1708.1" y="1557.5"/><use href="#mD" x="1712.2" y="1569.7"/><use href="#mD" x="1716.2" y="1581.9"/><use href="#mD" x="1720.3" y="1594.1"/><use href="#mD" x="1724.3" y="1606.2"/><use href="#mD" x="1728.4" y="1618.4"/><use href="#mD" x="1732.4" y="1630.6"/><use href="#mD" x="1736.5" y="1642.8"/><use href="#mD" x="1740.5" y="1655.0"/><use href="#mD" x="1805.3" y="1657.6"/><use href="#mD" x="1809.4" y="1604.7"/><use href="#mD" x="1813.4" y="1533.0"/><use href="#mD" x="1817.5" y="1419.0"/><use href="#mD" x="1821.5" y="1210.6"/><use href="#mD" x="1825.6" y="1395.3"/><use href="#mD" x="1829.6" y="1423.5"/><use href="#mD" x="1833.7" y="1444.7"/><use href="#mD" x="1837.7" y="1462.4"/><use href="#mD" x="1841.7" y="1474.4"/><use href="#mD" x="1845.8" y="1486.5"/><use href="#mD" x="1849.8" y="1498.5"/><use href="#mD" x="1853.9" y="1510.6"/><use href="#mD" x="1857.9" y="1522.6"/><use href="#mD" x="1862.0" y="1534.6"/><use href="#mD" x="1866.0" y="1546.7"/><use href="#mD" x="1870.1" y="1558.7"/><use href="#mD" x="1874.1" y="1570.7"/><use href="#mD" x="1878.2" y="1582.8"/><use href="#mD" x="1882.2" y="1594.8"/><use href="#mD" x="1886.3" y="1606.8"/><use href="#mD" x="1890.3" y="1618.9"/><use href="#mD" x="1894.4" y="1630.9"/><use href="#mD" x="1898.4" y="1643.0"/><use href="#mD" x="1902.5" y="1655.0"/><use href="#mD" x="1987.5" y="1634.0"/><use href="#mD" x="1991.6" y="1571.8"/><use href="#mD" x="1995.6" y="1481.0"/><use href="#mD" x="1999.7" y="1321.6"/><use href="#mD" x="2003.7" y="1344.7"/><use href="#mD" x="2007.8" y="1411.8"/><use href="#mD" x="2011.8" y="1442.4"/><use href="#mD" x="2015.9" y="1462.4"/><use href="#mD" x="2019.9" y="1481.0"/><use href="#mD" x="2024.0" y="1492.5"/><use href="#mD" x="2028.0" y="1504.1"/><use href="#mD" x="2032.1" y="1515.6"/><use href="#mD" x="2036.1" y="1527.1"/><use href="#mD" x="2040.2" y="1538.7"/><use href="#mD" x="2044.2" y="1550.2"/><use href="#mD" x="2048.3" y="1561.7"/><use href="#mD" x="2052.3" y="1573.3"/><use href="#mD" x="2056.4" y="1584.8"/><use href="#mD" x="2060.4" y="1596.3"/><use href="#mD" x="2064.5" y="1607.9"/><use href="#mD" x="2068.5" y="1619.4"/><use href="#mD" x="2072.6" y="1630.9"/><use href="#mD" x="2076.6" y="1642.5"/><use href="#mD" x="2080.7" y="1654.0"/><use href="#mD" x="2173.8" y="1649.4"/><use href="#mD" x="2177.8" y="1583.5"/><use href="#mD" x="2181.9" y="1486.0"/><use href="#mD" x="2185.9" y="1299.0"/><use href="#mD" x="2190.0" y="1389.4"/><use href="#mD" x="2194.0" y="1437.6"/><use href="#mD" x="2198.1" y="1466.0"/><use href="#mD" x="2202.1" y="1486.0"/><use href="#mD" x="2206.2" y="1502.0"/><use href="#mD" x="2210.2" y="1513.1"/><use href="#mD" x="2214.3" y="1524.1"/><use href="#mD" x="2218.3" y="1535.2"/><use href="#mD" x="2222.4" y="1546.3"/><use href="#mD" x="2226.4" y="1557.4"/><use href="#mD" x="2230.5" y="1568.4"/><use href="#mD" x="2234.5" y="1579.5"/><use href="#mD" x="2238.6" y="1590.6"/><use href="#mD" x="2242.6" y="1601.6"/><use href="#mD" x="2246.7" y="1612.7"/><use href="#mD" x="2250.7" y="1623.8"/><use href="#mD" x="2254.8" y="1634.9"/><use href="#mD" x="2258.8" y="1645.9"/><use href="#mD" x="2262.9" y="1657.0"/>
</g></g>
<g id="s-gamma" stroke="#00004c" fill="none" stroke-linejoin="round">
<polyline clip-path="url(#cp)" points="319.2 187.4 323.3 398.3 327.3 523.3 331.4 617.4 335.4 696.0 339.5 761.8 343.5 820.0 347.6 872.1 351.6 914.5 355.7 946.2 359.7 975.4 363.8 1003.4 367.8 1027.2 371.9 1038.1 375.9 1044.8 380.0 1049.9 384.0 1053.9 388.1 1057.5 392.1 1061.2 396.2 1065.2 400.2 1069.0 404.3 1072.6 408.3 1076.1 412.4 1079.6 416.4 1083.1 420.5 1086.7 424.5 1090.2 428.6 1093.7 432.6 1097.3 436.7 1101.1 440.7 1105.1 444.8 1109.4 448.8 1113.9 452.9 1118.7 456.9 1123.7 461.0 1129.1 465.0 1134.7 469.1 1140.9 473.1 1147.5 477.2 1154.5 481.2 1161.8 485.3 1169.2 489.3 1176.8 493.4 1184.6 497.4 1192.6 501.5 1200.9 505.5 1209.5 509.6 1218.6 513.6 1228.1 517.7 1237.9 521.7 1248.1 525.8 1259.0 529.8 1270.6 533.9 1283.2 537.9 1297.5 542.0 1314.7 546.0 1332.2 550.1 1349.7 554.1 1367.3 558.2 1384.8 562.2 1401.5 566.3 1416.7 570.3 1432.4 574.3 1450.2 578.4 1470.3 582.4 1493.0 586.5 1521.0 590.5 1549.0 594.6 1575.0 598.6 1598.8 602.7 1578.0 606.7 1555.0 610.8 1533.0 614.8 1509.0 618.9 1490.6 622.9 1473.0 627.0 1456.5 631.0 1442.0 635.1 1429.0 639.1 1417.6 643.2 1409.7 647.2 1403.0 651.3 1397.2 655.3 1392.0 659.4 1386.9 663.4 1382.0 667.5 1377.9 671.5 1375.0 675.6 1373.0 679.6 1371.2 683.7 1370.0 687.7 1369.5 691.8 1369.8 695.8 1370.5 699.9 1371.6 703.9 1373.0 708.0 1376.2 712.0 1381.7 716.1 1388.0 720.1 1394.9 724.2 1403.0 728.2 1412.0 732.3 1422.3 736.3 1433.9 740.4 1446.0 744.4 1458.2 748.5 1471.1 752.5 1485.0 756.6 1501.0 760.6 1521.0 764.7 1542.0 768.7 1568.0 772.8 1597.6 776.8 1626.0 780.9 1654.0 784.9 1690.0 789.0 1740.0 793.0 1682.0 797.1 1646.0 801.1 1617.6 805.2 1588.0 809.2 1561.0 813.3 1536.5 817.3 1514.0 821.3 1494.0 825.4 1476.5 829.4 1461.0 833.5 1447.0 837.5 1434.0 841.6 1422.0 845.6 1410.0 849.7 1401.3 853.7 1394.2 857.8 1388.4 861.8 1383.3 865.9 1379.1 869.9 1376.2 874.0 1373.8 878.0 1371.8 882.1 1370.6 886.1 1370.8 890.2 1372.3 894.2 1374.7 898.3 1377.4 902.3 1380.7 906.4 1385.2 910.4 1390.5 914.5 1396.0 918.5 1402.5 922.6 1410.6 926.6 1423.0 930.7 1436.4 934.7 1447.8 938.8 1466.2 942.8 1485.9 946.9 1504.9 950.9 1529.4 955.0 1555.3 959.0 1583.5 963.1 1613.0 967.1 1640.0 971.2 1650.0 975.2 1632.0 979.3 1613.0 983.3 1584.7 987.4 1553.0 991.4 1521.0 995.5 1496.5 999.5 1470.6 1003.6 1449.4 1007.6 1429.0 1011.7 1410.6 1015.7 1395.3 1019.8 1381.2 1023.8 1368.2 1027.9 1355.2 1031.9 1343.1 1036.0 1333.3 1040.0 1324.4 1044.1 1317.4 1048.1 1313.1 1052.2 1309.7 1056.2 1307.1 1060.3 1305.2 1064.3 1303.9 1068.4 1302.9 1072.4 1302.5 1076.4 1303.2 1080.5 1304.8 1084.5 1307.0 1088.6 1310.5 1092.6 1315.6 1096.7 1321.1 1100.7 1326.9 1104.8 1333.5 1108.8 1341.3 1112.9 1352.0 1116.9 1373.5 1121.0 1390.0 1125.0 1408.2 1129.1 1428.2 1133.1 1450.6 1137.2 1475.3 1141.2 1502.4 1145.3 1527.0 1149.3 1545.0 1153.4 1553.0 1157.4 1527.0 1161.5 1502.4 1165.5 1471.8 1169.6 1441.0 1173.6 1411.8 1177.7 1383.5 1181.7 1361.0 1185.8 1338.8 1189.8 1317.0 1193.9 1301.0 1197.9 1286.0 1202.0 1273.0 1206.0 1260.0 1210.1 1248.0 1214.1 1237.6 1218.2 1228.0 1222.2 1221.9 1226.3 1216.8 1230.3 1212.6 1234.4 1209.0 1238.4 1205.7 1242.5 1202.4 1246.5 1199.4 1250.6 1197.5 1254.6 1197.1 1258.7 1198.4 1262.7 1201.0 1266.8 1204.3 1270.8 1207.7 1274.9 1211.6 1278.9 1216.7 1283.0 1223.2 1287.0 1233.0 1291.1 1245.9 1295.1 1261.6 1299.2 1277.6 1303.2 1293.7 1307.3 1314.6 1311.3 1335.0 1315.4 1361.0 1319.4 1389.0 1323.5 1415.3 1327.5 1434.0 1331.5 1420.0 1335.6 1399.0 1339.6 1382.0 1343.7 1348.0 1347.7 1314.0 1351.8 1282.4 1355.8 1255.3 1359.9 1229.4 1363.9 1208.2 1368.0 1188.2 1372.0 1169.4 1376.1 1153.0 1380.1 1136.5 1384.2 1123.5 1388.2 1110.6 1392.3 1098.8 1396.3 1090.2 1400.4 1082.7 1404.4 1076.6 1408.5 1072.0 1412.5 1068.4 1416.6 1064.9 1420.6 1061.9 1424.7 1059.5 1428.7 1057.8 1432.8 1057.0 1436.8 1057.3 1440.9 1058.6 1444.9 1060.5 1449.0 1062.8 1453.0 1066.8 1457.1 1072.3 1461.1 1078.8 1465.2 1087.0 1469.2 1095.4 1473.3 1110.6 1477.3 1126.0 1481.4 1142.4 1485.4 1162.4 1489.5 1184.7 1493.5 1208.2 1497.6 1235.3 1501.6 1258.8 1505.7 1271.0 1509.7 1262.0 1513.8 1247.0 1517.8 1217.6 1521.9 1184.7 1525.9 1153.0 1530.0 1123.5 1534.0 1096.5 1538.1 1070.6 1542.1 1048.7 1546.2 1029.4 1550.2 1011.0 1554.3 999.1 1558.3 984.0 1562.4 967.4 1566.4 956.2 1570.5 944.8 1574.5 933.0 1578.6 926.1 1582.6 918.1 1586.6 912.3 1590.7 908.4 1594.7 904.3 1598.8 900.6 1602.8 898.0 1606.9 895.8 1610.9 894.6 1615.0 894.9 1619.0 896.5 1623.1 898.8 1627.1 901.8 1631.2 906.5 1635.2 911.4 1639.3 916.8 1643.3 925.5 1647.4 934.5 1651.4 947.7 1655.5 965.7 1659.5 984.4 1663.6 1013.0 1667.6 1037.6 1671.7 1065.9 1675.7 1093.0 1679.8 1113.0 1683.8 1120.0 1687.9 1101.0 1691.9 1070.6 1696.0 1035.3 1700.0 1004.7 1704.1 975.9 1708.1 943.9 1712.2 914.4 1716.2 891.5 1720.3 868.0 1724.3 850.3 1728.4 833.7 1732.4 816.8 1736.5 800.8 1740.5 784.7 1744.6 771.8 1748.6 761.0 1752.7 751.3 1756.7 741.9 1760.8 735.2 1764.8 730.5 1768.9 726.0 1772.9 722.1 1777.0 719.1 1781.0 716.3 1785.1 714.1 1789.1 713.0 1793.2 713.5 1797.2 715.4 1801.3 718.2 1805.3 721.5 1809.4 726.4 1813.4 733.3 1817.5 741.3 1821.5 751.0 1825.6 762.3 1829.6 774.7 1833.7 789.7 1837.7 812.8 1841.7 836.5 1845.8 861.0 1849.8 885.9 1853.9 908.0 1857.9 919.0 1862.0 908.0 1866.0 890.6 1870.1 860.0 1874.1 825.9 1878.2 793.0 1882.2 762.4 1886.3 735.3 1890.3 709.4 1894.4 688.0 1898.4 667.0 1902.5 648.0 1906.5 630.6 1910.6 615.3 1914.6 602.4 1918.7 590.2 1922.7 578.5 1926.8 568.0 1930.8 558.3 1934.9 549.1 1938.9 541.1 1943.0 535.0 1947.0 530.1 1951.1 525.5 1955.1 521.3 1959.2 518.0 1963.2 515.8 1967.3 515.0 1971.3 516.2 1975.4 519.5 1979.4 524.5 1983.5 530.7 1987.5 537.7 1991.6 545.0 1995.6 554.0 1999.7 566.0 2003.7 580.0 2007.8 597.7 2011.8 618.8 2015.9 642.4 2019.9 668.2 2024.0 694.6 2028.0 720.0 2032.1 736.0 2036.1 738.0 2040.2 708.7 2044.2 675.3 2048.3 638.8 2052.3 603.5 2056.4 575.3 2060.4 550.0 2064.5 525.2 2068.5 501.5 2072.6 480.0 2076.6 460.4 2080.7 442.0 2084.7 425.1 2088.7 410.0 2092.8 395.9 2096.8 382.3 2100.9 369.4 2104.9 357.9 2109.0 347.9 2113.0 340.0 2117.1 333.2 2121.1 326.5 2125.2 320.4 2129.2 315.0 2133.3 310.8 2137.3 308.0 2141.4 307.0 2145.4 307.9 2149.5 310.5 2153.5 314.5 2157.6 319.7 2161.6 325.8 2165.7 332.7 2169.7 340.0 2173.8 350.0 2177.8 364.3 2181.9 381.6 2185.9 400.5 2190.0 420.0 2194.0 441.1 2198.1 464.9 2202.1 490.0 2206.2 516.6 2210.2 545.0 2214.3 520.0 2218.3 490.3 2222.4 460.0 2226.4 432.6 2230.5 406.3 2234.5 380.0 2238.6 352.6 2242.6 325.3 2246.7 300.0 2250.7 277.3 2254.8 256.3 2258.8 237.0 2262.9 219.1 2266.9 202.4 2271.0 186.9 2275.0 172.7 2279.1 160.0 2283.1 148.4 2287.2 138.0 2291.2 129.0 2295.3 121.5 2299.3 115.3 2303.4 110.5 2307.4 106.9 2311.5 104.9 2315.5 104.0 2319.6 104.7 2323.6 106.5 2327.7 109.5 2331.7 114.0 2335.8 119.7 2339.8 127.0" stroke-width="4.2"/>
<g stroke-width="4.2" stroke-linejoin="round" stroke-opacity="0.9">
<use href="#mP" x="319.2" y="187.4"/><use href="#mP" x="323.3" y="398.3"/><use href="#mP" x="327.3" y="523.3"/><use href="#mP" x="331.4" y="617.4"/><use href="#mP" x="335.4" y="696.0"/><use href="#mP" x="339.5" y="761.8"/><use href="#mP" x="343.5" y="820.0"/><use href="#mP" x="347.6" y="872.1"/><use href="#mP" x="351.6" y="914.5"/><use href="#mP" x="355.7" y="946.2"/><use href="#mP" x="359.7" y="975.4"/><use href="#mP" x="363.8" y="1003.4"/><use href="#mP" x="367.8" y="1027.2"/><use href="#mP" x="371.9" y="1038.1"/><use href="#mP" x="375.9" y="1044.8"/><use href="#mP" x="380.0" y="1049.9"/><use href="#mP" x="384.0" y="1053.9"/><use href="#mP" x="388.1" y="1057.5"/><use href="#mP" x="392.1" y="1061.2"/><use href="#mP" x="396.2" y="1065.2"/><use href="#mP" x="400.2" y="1069.0"/><use href="#mP" x="404.3" y="1072.6"/><use href="#mP" x="408.3" y="1076.1"/><use href="#mP" x="412.4" y="1079.6"/><use href="#mP" x="416.4" y="1083.1"/><use href="#mP" x="420.5" y="1086.7"/><use href="#mP" x="424.5" y="1090.2"/><use href="#mP" x="428.6" y="1093.7"/><use href="#mP" x="432.6" y="1097.3"/><use href="#mP" x="436.7" y="1101.1"/><use href="#mP" x="440.7" y="1105.1"/><use href="#mP" x="444.8" y="1109.4"/><use href="#mP" x="448.8" y="1113.9"/><use href="#mP" x="452.9" y="1118.7"/><use href="#mP" x="456.9" y="1123.7"/><use href="#mP" x="461.0" y="1129.1"/><use href="#mP" x="465.0" y="1134.7"/><use href="#mP" x="469.1" y="1140.9"/><use href="#mP" x="473.1" y="1147.5"/><use href="#mP" x="477.2" y="1154.5"/><use href="#mP" x="481.2" y="1161.8"/><use href="#mP" x="485.3" y="1169.2"/><use href="#mP" x="489.3" y="1176.8"/><use href="#mP" x="493.4" y="1184.6"/><use href="#mP" x="497.4" y="1192.6"/><use href="#mP" x="501.5" y="1200.9"/><use href="#mP" x="505.5" y="1209.5"/><use href="#mP" x="509.6" y="1218.6"/><use href="#mP" x="513.6" y="1228.1"/><use href="#mP" x="517.7" y="1237.9"/><use href="#mP" x="521.7" y="1248.1"/><use href="#mP" x="525.8" y="1259.0"/><use href="#mP" x="529.8" y="1270.6"/><use href="#mP" x="533.9" y="1283.2"/><use href="#mP" x="537.9" y="1297.5"/><use href="#mP" x="542.0" y="1314.7"/><use href="#mP" x="546.0" y="1332.2"/><use href="#mP" x="550.1" y="1349.7"/><use href="#mP" x="554.1" y="1367.3"/><use href="#mP" x="558.2" y="1384.8"/><use href="#mP" x="562.2" y="1401.5"/><use href="#mP" x="566.3" y="1416.7"/><use href="#mP" x="570.3" y="1432.4"/><use href="#mP" x="574.3" y="1450.2"/><use href="#mP" x="578.4" y="1470.3"/><use href="#mP" x="582.4" y="1493.0"/><use href="#mP" x="586.5" y="1521.0"/><use href="#mP" x="590.5" y="1549.0"/><use href="#mP" x="594.6" y="1575.0"/><use href="#mP" x="598.6" y="1598.8"/><use href="#mP" x="602.7" y="1578.0"/><use href="#mP" x="606.7" y="1555.0"/><use href="#mP" x="610.8" y="1533.0"/><use href="#mP" x="614.8" y="1509.0"/><use href="#mP" x="618.9" y="1490.6"/><use href="#mP" x="622.9" y="1473.0"/><use href="#mP" x="627.0" y="1456.5"/><use href="#mP" x="631.0" y="1442.0"/><use href="#mP" x="635.1" y="1429.0"/><use href="#mP" x="639.1" y="1417.6"/><use href="#mP" x="643.2" y="1409.7"/><use href="#mP" x="647.2" y="1403.0"/><use href="#mP" x="651.3" y="1397.2"/><use href="#mP" x="655.3" y="1392.0"/><use href="#mP" x="659.4" y="1386.9"/><use href="#mP" x="663.4" y="1382.0"/><use href="#mP" x="667.5" y="1377.9"/><use href="#mP" x="671.5" y="1375.0"/><use href="#mP" x="675.6" y="1373.0"/><use href="#mP" x="679.6" y="1371.2"/><use href="#mP" x="683.7" y="1370.0"/><use href="#mP" x="687.7" y="1369.5"/><use href="#mP" x="691.8" y="1369.8"/><use href="#mP" x="695.8" y="1370.5"/><use href="#mP" x="699.9" y="1371.6"/><use href="#mP" x="703.9" y="1373.0"/><use href="#mP" x="708.0" y="1376.2"/><use href="#mP" x="712.0" y="1381.7"/><use href="#mP" x="716.1" y="1388.0"/><use href="#mP" x="720.1" y="1394.9"/><use href="#mP" x="724.2" y="1403.0"/><use href="#mP" x="728.2" y="1412.0"/><use href="#mP" x="732.3" y="1422.3"/><use href="#mP" x="736.3" y="1433.9"/><use href="#mP" x="740.4" y="1446.0"/><use href="#mP" x="744.4" y="1458.2"/><use href="#mP" x="748.5" y="1471.1"/><use href="#mP" x="752.5" y="1485.0"/><use href="#mP" x="756.6" y="1501.0"/><use href="#mP" x="760.6" y="1521.0"/><use href="#mP" x="764.7" y="1542.0"/><use href="#mP" x="768.7" y="1568.0"/><use href="#mP" x="772.8" y="1597.6"/><use href="#mP" x="776.8" y="1626.0"/><use href="#mP" x="780.9" y="1654.0"/><use href="#mP" x="797.1" y="1646.0"/><use href="#mP" x="801.1" y="1617.6"/><use href="#mP" x="805.2" y="1588.0"/><use href="#mP" x="809.2" y="1561.0"/><use href="#mP" x="813.3" y="1536.5"/><use href="#mP" x="817.3" y="1514.0"/><use href="#mP" x="821.3" y="1494.0"/><use href="#mP" x="825.4" y="1476.5"/><use href="#mP" x="829.4" y="1461.0"/><use href="#mP" x="833.5" y="1447.0"/><use href="#mP" x="837.5" y="1434.0"/><use href="#mP" x="841.6" y="1422.0"/><use href="#mP" x="845.6" y="1410.0"/><use href="#mP" x="849.7" y="1401.3"/><use href="#mP" x="853.7" y="1394.2"/><use href="#mP" x="857.8" y="1388.4"/><use href="#mP" x="861.8" y="1383.3"/><use href="#mP" x="865.9" y="1379.1"/><use href="#mP" x="869.9" y="1376.2"/><use href="#mP" x="874.0" y="1373.8"/><use href="#mP" x="878.0" y="1371.8"/><use href="#mP" x="882.1" y="1370.6"/><use href="#mP" x="886.1" y="1370.8"/><use href="#mP" x="890.2" y="1372.3"/><use href="#mP" x="894.2" y="1374.7"/><use href="#mP" x="898.3" y="1377.4"/><use href="#mP" x="902.3" y="1380.7"/><use href="#mP" x="906.4" y="1385.2"/><use href="#mP" x="910.4" y="1390.5"/><use href="#mP" x="914.5" y="1396.0"/><use href="#mP" x="918.5" y="1402.5"/><use href="#mP" x="922.6" y="1410.6"/><use href="#mP" x="926.6" y="1423.0"/><use href="#mP" x="930.7" y="1436.4"/><use href="#mP" x="934.7" y="1447.8"/><use href="#mP" x="938.8" y="1466.2"/><use href="#mP" x="942.8" y="1485.9"/><use href="#mP" x="946.9" y="1504.9"/><use href="#mP" x="950.9" y="1529.4"/><use href="#mP" x="955.0" y="1555.3"/><use href="#mP" x="959.0" y="1583.5"/><use href="#mP" x="963.1" y="1613.0"/><use href="#mP" x="967.1" y="1640.0"/><use href="#mP" x="971.2" y="1650.0"/><use href="#mP" x="975.2" y="1632.0"/><use href="#mP" x="979.3" y="1613.0"/><use href="#mP" x="983.3" y="1584.7"/><use href="#mP" x="987.4" y="1553.0"/><use href="#mP" x="991.4" y="1521.0"/><use href="#mP" x="995.5" y="1496.5"/><use href="#mP" x="999.5" y="1470.6"/><use href="#mP" x="1003.6" y="1449.4"/><use href="#mP" x="1007.6" y="1429.0"/><use href="#mP" x="1011.7" y="1410.6"/><use href="#mP" x="1015.7" y="1395.3"/><use href="#mP" x="1019.8" y="1381.2"/><use href="#mP" x="1023.8" y="1368.2"/><use href="#mP" x="1027.9" y="1355.2"/><use href="#mP" x="1031.9" y="1343.1"/><use href="#mP" x="1036.0" y="1333.3"/><use href="#mP" x="1040.0" y="1324.4"/><use href="#mP" x="1044.1" y="1317.4"/><use href="#mP" x="1048.1" y="1313.1"/><use href="#mP" x="1052.2" y="1309.7"/><use href="#mP" x="1056.2" y="1307.1"/><use href="#mP" x="1060.3" y="1305.2"/><use href="#mP" x="1064.3" y="1303.9"/><use href="#mP" x="1068.4" y="1302.9"/><use href="#mP" x="1072.4" y="1302.5"/><use href="#mP" x="1076.4" y="1303.2"/><use href="#mP" x="1080.5" y="1304.8"/><use href="#mP" x="1084.5" y="1307.0"/><use href="#mP" x="1088.6" y="1310.5"/><use href="#mP" x="1092.6" y="1315.6"/><use href="#mP" x="1096.7" y="1321.1"/><use href="#mP" x="1100.7" y="1326.9"/><use href="#mP" x="1104.8" y="1333.5"/><use href="#mP" x="1108.8" y="1341.3"/><use href="#mP" x="1112.9" y="1352.0"/><use href="#mP" x="1116.9" y="1373.5"/><use href="#mP" x="1121.0" y="1390.0"/><use href="#mP" x="1125.0" y="1408.2"/><use href="#mP" x="1129.1" y="1428.2"/><use href="#mP" x="1133.1" y="1450.6"/><use href="#mP" x="1137.2" y="1475.3"/><use href="#mP" x="1141.2" y="1502.4"/><use href="#mP" x="1145.3" y="1527.0"/><use href="#mP" x="1149.3" y="1545.0"/><use href="#mP" x="1153.4" y="1553.0"/><use href="#mP" x="1157.4" y="1527.0"/><use href="#mP" x="1161.5" y="1502.4"/><use href="#mP" x="1165.5" y="1471.8"/><use href="#mP" x="1169.6" y="1441.0"/><use href="#mP" x="1173.6" y="1411.8"/><use href="#mP" x="1177.7" y="1383.5"/><use href="#mP" x="1181.7" y="1361.0"/><use href="#mP" x="1185.8" y="1338.8"/><use href="#mP" x="1189.8" y="1317.0"/><use href="#mP" x="1193.9" y="1301.0"/><use href="#mP" x="1197.9" y="1286.0"/><use href="#mP" x="1202.0" y="1273.0"/><use href="#mP" x="1206.0" y="1260.0"/><use href="#mP" x="1210.1" y="1248.0"/><use href="#mP" x="1214.1" y="1237.6"/><use href="#mP" x="1218.2" y="1228.0"/><use href="#mP" x="1222.2" y="1221.9"/><use href="#mP" x="1226.3" y="1216.8"/><use href="#mP" x="1230.3" y="1212.6"/><use href="#mP" x="1234.4" y="1209.0"/><use href="#mP" x="1238.4" y="1205.7"/><use href="#mP" x="1242.5" y="1202.4"/><use href="#mP" x="1246.5" y="1199.4"/><use href="#mP" x="1250.6" y="1197.5"/><use href="#mP" x="1254.6" y="1197.1"/><use href="#mP" x="1258.7" y="1198.4"/><use href="#mP" x="1262.7" y="1201.0"/><use href="#mP" x="1266.8" y="1204.3"/><use href="#mP" x="1270.8" y="1207.7"/><use href="#mP" x="1274.9" y="1211.6"/><use href="#mP" x="1278.9" y="1216.7"/><use href="#mP" x="1283.0" y="1223.2"/><use href="#mP" x="1287.0" y="1233.0"/><use href="#mP" x="1291.1" y="1245.9"/><use href="#mP" x="1295.1" y="1261.6"/><use href="#mP" x="1299.2" y="1277.6"/><use href="#mP" x="1303.2" y="1293.7"/><use href="#mP" x="1307.3" y="1314.6"/><use href="#mP" x="1311.3" y="1335.0"/><use href="#mP" x="1315.4" y="1361.0"/><use href="#mP" x="1319.4" y="1389.0"/><use href="#mP" x="1323.5" y="1415.3"/><use href="#mP" x="1327.5" y="1434.0"/><use href="#mP" x="1331.5" y="1420.0"/><use href="#mP" x="1335.6" y="1399.0"/><use href="#mP" x="1339.6" y="1382.0"/><use href="#mP" x="1343.7" y="1348.0"/><use href="#mP" x="1347.7" y="1314.0"/><use href="#mP" x="1351.8" y="1282.4"/><use href="#mP" x="1355.8" y="1255.3"/><use href="#mP" x="1359.9" y="1229.4"/><use href="#mP" x="1363.9" y="1208.2"/><use href="#mP" x="1368.0" y="1188.2"/><use href="#mP" x="1372.0" y="1169.4"/><use href="#mP" x="1376.1" y="1153.0"/><use href="#mP" x="1380.1" y="1136.5"/><use href="#mP" x="1384.2" y="1123.5"/><use href="#mP" x="1388.2" y="1110.6"/><use href="#mP" x="1392.3" y="1098.8"/><use href="#mP" x="1396.3" y="1090.2"/><use href="#mP" x="1400.4" y="1082.7"/><use href="#mP" x="1404.4" y="1076.6"/><use href="#mP" x="1408.5" y="1072.0"/><use href="#mP" x="1412.5" y="1068.4"/><use href="#mP" x="1416.6" y="1064.9"/><use href="#mP" x="1420.6" y="1061.9"/><use href="#mP" x="1424.7" y="1059.5"/><use href="#mP" x="1428.7" y="1057.8"/><use href="#mP" x="1432.8" y="1057.0"/><use href="#mP" x="1436.8" y="1057.3"/><use href="#mP" x="1440.9" y="1058.6"/><use href="#mP" x="1444.9" y="1060.5"/><use href="#mP" x="1449.0" y="1062.8"/><use href="#mP" x="1453.0" y="1066.8"/><use href="#mP" x="1457.1" y="1072.3"/><use href="#mP" x="1461.1" y="1078.8"/><use href="#mP" x="1465.2" y="1087.0"/><use href="#mP" x="1469.2" y="1095.4"/><use href="#mP" x="1473.3" y="1110.6"/><use href="#mP" x="1477.3" y="1126.0"/><use href="#mP" x="1481.4" y="1142.4"/><use href="#mP" x="1485.4" y="1162.4"/><use href="#mP" x="1489.5" y="1184.7"/><use href="#mP" x="1493.5" y="1208.2"/><use href="#mP" x="1497.6" y="1235.3"/><use href="#mP" x="1501.6" y="1258.8"/><use href="#mP" x="1505.7" y="1271.0"/><use href="#mP" x="1509.7" y="1262.0"/><use href="#mP" x="1513.8" y="1247.0"/><use href="#mP" x="1517.8" y="1217.6"/><use href="#mP" x="1521.9" y="1184.7"/><use href="#mP" x="1525.9" y="1153.0"/><use href="#mP" x="1530.0" y="1123.5"/><use href="#mP" x="1534.0" y="1096.5"/><use href="#mP" x="1538.1" y="1070.6"/><use href="#mP" x="1542.1" y="1048.7"/><use href="#mP" x="1546.2" y="1029.4"/><use href="#mP" x="1550.2" y="1011.0"/><use href="#mP" x="1554.3" y="999.1"/><use href="#mP" x="1558.3" y="984.0"/><use href="#mP" x="1562.4" y="967.4"/><use href="#mP" x="1566.4" y="956.2"/><use href="#mP" x="1570.5" y="944.8"/><use href="#mP" x="1574.5" y="933.0"/><use href="#mP" x="1578.6" y="926.1"/><use href="#mP" x="1582.6" y="918.1"/><use href="#mP" x="1586.6" y="912.3"/><use href="#mP" x="1590.7" y="908.4"/><use href="#mP" x="1594.7" y="904.3"/><use href="#mP" x="1598.8" y="900.6"/><use href="#mP" x="1602.8" y="898.0"/><use href="#mP" x="1606.9" y="895.8"/><use href="#mP" x="1610.9" y="894.6"/><use href="#mP" x="1615.0" y="894.9"/><use href="#mP" x="1619.0" y="896.5"/><use href="#mP" x="1623.1" y="898.8"/><use href="#mP" x="1627.1" y="901.8"/><use href="#mP" x="1631.2" y="906.5"/><use href="#mP" x="1635.2" y="911.4"/><use href="#mP" x="1639.3" y="916.8"/><use href="#mP" x="1643.3" y="925.5"/><use href="#mP" x="1647.4" y="934.5"/><use href="#mP" x="1651.4" y="947.7"/><use href="#mP" x="1655.5" y="965.7"/><use href="#mP" x="1659.5" y="984.4"/><use href="#mP" x="1663.6" y="1013.0"/><use href="#mP" x="1667.6" y="1037.6"/><use href="#mP" x="1671.7" y="1065.9"/><use href="#mP" x="1675.7" y="1093.0"/><use href="#mP" x="1679.8" y="1113.0"/><use href="#mP" x="1683.8" y="1120.0"/><use href="#mP" x="1687.9" y="1101.0"/><use href="#mP" x="1691.9" y="1070.6"/><use href="#mP" x="1696.0" y="1035.3"/><use href="#mP" x="1700.0" y="1004.7"/><use href="#mP" x="1704.1" y="975.9"/><use href="#mP" x="1708.1" y="943.9"/><use href="#mP" x="1712.2" y="914.4"/><use href="#mP" x="1716.2" y="891.5"/><use href="#mP" x="1720.3" y="868.0"/><use href="#mP" x="1724.3" y="850.3"/><use href="#mP" x="1728.4" y="833.7"/><use href="#mP" x="1732.4" y="816.8"/><use href="#mP" x="1736.5" y="800.8"/><use href="#mP" x="1740.5" y="784.7"/><use href="#mP" x="1744.6" y="771.8"/><use href="#mP" x="1748.6" y="761.0"/><use href="#mP" x="1752.7" y="751.3"/><use href="#mP" x="1756.7" y="741.9"/><use href="#mP" x="1760.8" y="735.2"/><use href="#mP" x="1764.8" y="730.5"/><use href="#mP" x="1768.9" y="726.0"/><use href="#mP" x="1772.9" y="722.1"/><use href="#mP" x="1777.0" y="719.1"/><use href="#mP" x="1781.0" y="716.3"/><use href="#mP" x="1785.1" y="714.1"/><use href="#mP" x="1789.1" y="713.0"/><use href="#mP" x="1793.2" y="713.5"/><use href="#mP" x="1797.2" y="715.4"/><use href="#mP" x="1801.3" y="718.2"/><use href="#mP" x="1805.3" y="721.5"/><use href="#mP" x="1809.4" y="726.4"/><use href="#mP" x="1813.4" y="733.3"/><use href="#mP" x="1817.5" y="741.3"/><use href="#mP" x="1821.5" y="751.0"/><use href="#mP" x="1825.6" y="762.3"/><use href="#mP" x="1829.6" y="774.7"/><use href="#mP" x="1833.7" y="789.7"/><use href="#mP" x="1837.7" y="812.8"/><use href="#mP" x="1841.7" y="836.5"/><use href="#mP" x="1845.8" y="861.0"/><use href="#mP" x="1849.8" y="885.9"/><use href="#mP" x="1853.9" y="908.0"/><use href="#mP" x="1857.9" y="919.0"/><use href="#mP" x="1862.0" y="908.0"/><use href="#mP" x="1866.0" y="890.6"/><use href="#mP" x="1870.1" y="860.0"/><use href="#mP" x="1874.1" y="825.9"/><use href="#mP" x="1878.2" y="793.0"/><use href="#mP" x="1882.2" y="762.4"/><use href="#mP" x="1886.3" y="735.3"/><use href="#mP" x="1890.3" y="709.4"/><use href="#mP" x="1894.4" y="688.0"/><use href="#mP" x="1898.4" y="667.0"/><use href="#mP" x="1902.5" y="648.0"/><use href="#mP" x="1906.5" y="630.6"/><use href="#mP" x="1910.6" y="615.3"/><use href="#mP" x="1914.6" y="602.4"/><use href="#mP" x="1918.7" y="590.2"/><use href="#mP" x="1922.7" y="578.5"/><use href="#mP" x="1926.8" y="568.0"/><use href="#mP" x="1930.8" y="558.3"/><use href="#mP" x="1934.9" y="549.1"/><use href="#mP" x="1938.9" y="541.1"/><use href="#mP" x="1943.0" y="535.0"/><use href="#mP" x="1947.0" y="530.1"/><use href="#mP" x="1951.1" y="525.5"/><use href="#mP" x="1955.1" y="521.3"/><use href="#mP" x="1959.2" y="518.0"/><use href="#mP" x="1963.2" y="515.8"/><use href="#mP" x="1967.3" y="515.0"/><use href="#mP" x="1971.3" y="516.2"/><use href="#mP" x="1975.4" y="519.5"/><use href="#mP" x="1979.4" y="524.5"/><use href="#mP" x="1983.5" y="530.7"/><use href="#mP" x="1987.5" y="537.7"/><use href="#mP" x="1991.6" y="545.0"/><use href="#mP" x="1995.6" y="554.0"/><use href="#mP" x="1999.7" y="566.0"/><use href="#mP" x="2003.7" y="580.0"/><use href="#mP" x="2007.8" y="597.7"/><use href="#mP" x="2011.8" y="618.8"/><use href="#mP" x="2015.9" y="642.4"/><use href="#mP" x="2019.9" y="668.2"/><use href="#mP" x="2024.0" y="694.6"/><use href="#mP" x="2028.0" y="720.0"/><use href="#mP" x="2032.1" y="736.0"/><use href="#mP" x="2036.1" y="738.0"/><use href="#mP" x="2040.2" y="708.7"/><use href="#mP" x="2044.2" y="675.3"/><use href="#mP" x="2048.3" y="638.8"/><use href="#mP" x="2052.3" y="603.5"/><use href="#mP" x="2056.4" y="575.3"/><use href="#mP" x="2060.4" y="550.0"/><use href="#mP" x="2064.5" y="525.2"/><use href="#mP" x="2068.5" y="501.5"/><use href="#mP" x="2072.6" y="480.0"/><use href="#mP" x="2076.6" y="460.4"/><use href="#mP" x="2080.7" y="442.0"/><use href="#mP" x="2084.7" y="425.1"/><use href="#mP" x="2088.7" y="410.0"/><use href="#mP" x="2092.8" y="395.9"/><use href="#mP" x="2096.8" y="382.3"/><use href="#mP" x="2100.9" y="369.4"/><use href="#mP" x="2104.9" y="357.9"/><use href="#mP" x="2109.0" y="347.9"/><use href="#mP" x="2113.0" y="340.0"/><use href="#mP" x="2117.1" y="333.2"/><use href="#mP" x="2121.1" y="326.5"/><use href="#mP" x="2125.2" y="320.4"/><use href="#mP" x="2129.2" y="315.0"/><use href="#mP" x="2133.3" y="310.8"/><use href="#mP" x="2137.3" y="308.0"/><use href="#mP" x="2141.4" y="307.0"/><use href="#mP" x="2145.4" y="307.9"/><use href="#mP" x="2149.5" y="310.5"/><use href="#mP" x="2153.5" y="314.5"/><use href="#mP" x="2157.6" y="319.7"/><use href="#mP" x="2161.6" y="325.8"/><use href="#mP" x="2165.7" y="332.7"/><use href="#mP" x="2169.7" y="340.0"/><use href="#mP" x="2173.8" y="350.0"/><use href="#mP" x="2177.8" y="364.3"/><use href="#mP" x="2181.9" y="381.6"/><use href="#mP" x="2185.9" y="400.5"/><use href="#mP" x="2190.0" y="420.0"/><use href="#mP" x="2194.0" y="441.1"/><use href="#mP" x="2198.1" y="464.9"/><use href="#mP" x="2202.1" y="490.0"/><use href="#mP" x="2206.2" y="516.6"/><use href="#mP" x="2210.2" y="545.0"/><use href="#mP" x="2214.3" y="520.0"/><use href="#mP" x="2218.3" y="490.3"/><use href="#mP" x="2222.4" y="460.0"/><use href="#mP" x="2226.4" y="432.6"/><use href="#mP" x="2230.5" y="406.3"/><use href="#mP" x="2234.5" y="380.0"/><use href="#mP" x="2238.6" y="352.6"/><use href="#mP" x="2242.6" y="325.3"/><use href="#mP" x="2246.7" y="300.0"/><use href="#mP" x="2250.7" y="277.3"/><use href="#mP" x="2254.8" y="256.3"/><use href="#mP" x="2258.8" y="237.0"/><use href="#mP" x="2262.9" y="219.1"/><use href="#mP" x="2266.9" y="202.4"/><use href="#mP" x="2271.0" y="186.9"/><use href="#mP" x="2275.0" y="172.7"/><use href="#mP" x="2279.1" y="160.0"/><use href="#mP" x="2283.1" y="148.4"/><use href="#mP" x="2287.2" y="138.0"/><use href="#mP" x="2291.2" y="129.0"/><use href="#mP" x="2295.3" y="121.5"/><use href="#mP" x="2299.3" y="115.3"/><use href="#mP" x="2303.4" y="110.5"/><use href="#mP" x="2307.4" y="106.9"/><use href="#mP" x="2311.5" y="104.9"/><use href="#mP" x="2315.5" y="104.0"/><use href="#mP" x="2319.6" y="104.7"/><use href="#mP" x="2323.6" y="106.5"/><use href="#mP" x="2327.7" y="109.5"/><use href="#mP" x="2331.7" y="114.0"/><use href="#mP" x="2335.8" y="119.7"/><use href="#mP" x="2339.8" y="127.0"/>
</g></g>
</g>
<g filter="url(#bt)" fill="#262626" stroke="#262626" stroke-width="0.4">
<g id="xticks" font-size="74" text-anchor="middle">
<text x="313.0" y="1771">0</text>
<text x="717.9" y="1771">100</text>
<text x="1122.8" y="1771">200</text>
<text x="1527.8" y="1771">300</text>
<text x="1932.7" y="1771">400</text>
<text x="2337.6" y="1771">500</text>
</g>
<g id="yticks" font-size="74" text-anchor="end">
<text x="281" y="1695.7"><tspan>1</tspan><tspan dx="-3.5">0</tspan><tspan font-size="55" dy="-32" dx="2">-6</tspan></text>
<text x="281" y="1468.4"><tspan>1</tspan><tspan dx="-3.5">0</tspan><tspan font-size="55" dy="-32" dx="2">-5</tspan></text>
<text x="281" y="1241.1"><tspan>1</tspan><tspan dx="-3.5">0</tspan><tspan font-size="55" dy="-32" dx="2">-4</tspan></text>
<text x="281" y="1013.8"><tspan>1</tspan><tspan dx="-3.5">0</tspan><tspan font-size="55" dy="-32" dx="2">-3</tspan></text>
<text x="281" y="786.5"><tspan>1</tspan><tspan dx="-3.5">0</tspan><tspan font-size="55" dy="-32" dx="2">-2</tspan></text>
<text x="281" y="559.2"><tspan>1</tspan><tspan dx="-3.5">0</tspan><tspan font-size="55" dy="-32" dx="2">-1</tspan></text>
<text x="281" y="331.9"><tspan>1</tspan><tspan dx="-3.5">0</tspan><tspan font-size="55" dy="-32" dx="2">0</tspan></text>
<text x="281" y="104.6"><tspan>1</tspan><tspan dx="-3.5">0</tspan><tspan font-size="55" dy="-32" dx="2">1</tspan></text>
</g>
<text id="xlabel" transform="translate(1328 1869) scale(0.955 1)" font-size="81.5" text-anchor="middle">Number of iterations</text>
<text id="ylabel" transform="translate(96 864.5) rotate(-90) scale(0.97 1)" font-size="80" text-anchor="middle">||x<tspan font-size="63" dy="14">n+1</tspan><tspan dy="-14" dx="-9"> - x</tspan><tspan font-size="63" dy="14">n</tspan><tspan dy="-14">||</tspan></text>
</g>
<g id="legend">
<g filter="url(#bl)">
<rect x="1662.5" y="138.5" width="609.5" height="460.5" fill="#fff" stroke="#404040" stroke-width="5"/>
<g stroke="#0000c4" fill="none"><path d="M1697 208.2H1869" stroke-width="4.8" stroke-dasharray="28 10 8 10"/><use href="#mA" x="1783" y="208.2" stroke-width="4"/></g>
<g stroke="#00c000" fill="none"><path d="M1697 315.0H1869" stroke-width="4.8"/><use href="#mT" x="1783" y="315.0" stroke-width="4.3"/></g>
<g stroke="#c60000" fill="none"><path d="M1697 422.0H1869" stroke-width="4.8"/><use href="#mD" x="1783" y="422.0" stroke-width="4.3"/></g>
<g stroke="#00004c" fill="none"><path d="M1697 529.6H1869" stroke-width="4.8"/><use href="#mP" x="1783" y="529.6" stroke-width="4.2"/></g>
</g>
<g filter="url(#bt)" fill="#000" stroke="#000" stroke-width="0.4" font-size="65">
<text x="1901" y="227.5">Step size τ</text>
<text x="1901" y="334.3">Step size ρ<tspan font-size="52" dy="13">n</tspan></text>
<text x="1901" y="441.3">Step size τ<tspan font-size="52" dy="13">n</tspan></text>
<text x="1901" y="548.9">Step size γ</text>
</g></g>
</svg></body></html>
